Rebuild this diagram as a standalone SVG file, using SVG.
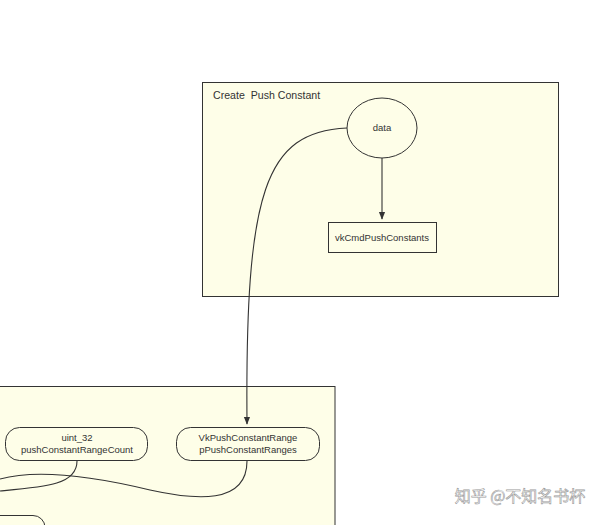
<svg xmlns="http://www.w3.org/2000/svg" width="600" height="525" viewBox="0 0 600 525">
<style>
text{font-family:"Liberation Sans",Arial,sans-serif;font-size:9.5px;fill:#333;text-anchor:middle}
.box{fill:#fefee8;stroke:#333;stroke-width:1}
.n{fill:#fefee8;stroke:#333;stroke-width:1}
.c{fill:none;stroke:#333;stroke-width:1.1}
</style>
<defs><marker id="a" viewBox="0 0 10 10" refX="9" refY="5" markerWidth="7" markerHeight="7" orient="auto"><path d="M0,1 L10,5 L0,9 z" fill="#333"/></marker></defs>
<rect width="600" height="525" fill="#fff"/>
<g id="cluster-top"><rect class="box" x="202.5" y="82.5" width="356" height="214"/><text x="213" y="99" xml:space="preserve" style="text-anchor:start;white-space:pre;font-size:10.6px">Create  Push Constant</text></g>
<g id="cluster-bottom"><rect class="box" x="-1" y="386.5" width="336" height="150"/></g>
<g id="connectors">
<path class="c" d="M382,158 L382,219" marker-end="url(#a)"/>
<path class="c" d="M347,128 C265,132 245,190 247,424" marker-end="url(#a)"/>
<path class="c" d="M247,461 C247,505 195,500 150,490 C100,478 40,468 0,479"/>
<path class="c" d="M77,461 C77,485 45,487 0,491"/>
</g>
<g id="data"><ellipse class="n" cx="382" cy="128" rx="35" ry="30"/><text x="382" y="131">data</text></g>
<g id="vkCmd"><rect class="n" x="328.5" y="222.5" width="108" height="30"/><text x="382" y="241">vkCmdPushConstants</text></g>
<g id="count"><rect class="n" x="5.5" y="427.5" width="142" height="33" rx="14"/><text x="77" y="441">uint_32</text><text x="77" y="453">pushConstantRangeCount</text></g>
<g id="ranges"><rect class="n" x="176.5" y="427.5" width="143" height="33" rx="14"/><text x="248" y="441">VkPushConstantRange</text><text x="248" y="453">pPushConstantRanges</text></g>
<g id="partial"><rect class="n" x="-20" y="515.5" width="65" height="30" rx="12"/></g>
<text x="520" y="502" style="font-family:'Noto Sans CJK SC',sans-serif;font-size:16px;fill:#fff;stroke:#999;stroke-width:0.6">知乎 @不知名书杯</text>
</svg>
